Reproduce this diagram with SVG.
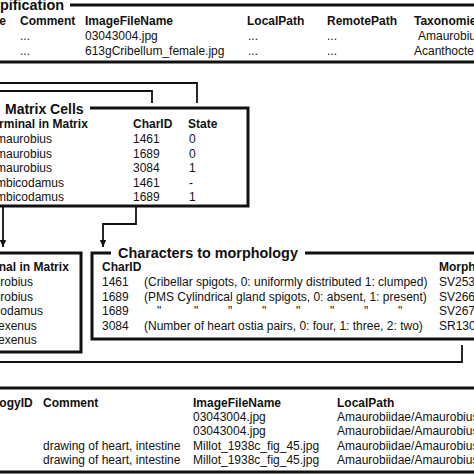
<svg xmlns="http://www.w3.org/2000/svg" width="474" height="474" viewBox="0 0 474 474">
<defs>
<style>
text{font-family:"Liberation Sans",Arial,sans-serif;font-size:12px;fill:#111}
.h{font-weight:bold}
.t{font-weight:bold;font-size:14.4px}
.box{fill:none;stroke:#111;stroke-width:3}
.con{fill:none;stroke:#111;stroke-width:1.8}
</style>
<marker id="arr" markerUnits="userSpaceOnUse" markerWidth="8" markerHeight="8" refX="7" refY="4" orient="auto">
<path d="M0,0.8 L7,4 L0,7.2 Z" fill="#111"/>
</marker>
</defs>
<rect width="474" height="474" fill="#fff"/>

<g id="node-specification">
<path class="box" d="M70,5 H474 M0,62 H474"/>
<text class="t" x="0" y="10">pification</text>
<text class="h" x="-20" y="25">Date</text>
<text class="h" x="20" y="25">Comment</text>
<text class="h" x="85" y="25">ImageFileName</text>
<text class="h" x="247" y="25">LocalPath</text>
<text class="h" x="327" y="25">RemotePath</text>
<text class="h" x="414" y="25">Taxonomie</text>
<text x="20" y="39.5">...</text>
<text x="85" y="39.5">03043004.jpg</text>
<text x="248" y="39.5">...</text>
<text x="327" y="39.5">...</text>
<text x="418" y="39.5">Amaurobius</text>
<text x="20" y="55">...</text>
<text x="85" y="55">613gCribellum_female.jpg</text>
<text x="248" y="55">...</text>
<text x="327" y="55">...</text>
<text x="414" y="55">Acanthocte</text>
</g>

<g id="node-matrix-cells">
<path class="box" d="M90,108 H248 V206 H0"/>
<text class="t" x="5" y="113.7" style="font-size:14px">Matrix Cells</text>
<text class="h" x="-14" y="128">Terminal in Matrix</text>
<text class="h" x="133" y="128">CharID</text>
<text class="h" x="188" y="128">State</text>
<text x="-12" y="143">Amaurobius</text><text x="133" y="143">1461</text><text x="189" y="143">0</text>
<text x="-12" y="157.5">Amaurobius</text><text x="133" y="157.5">1689</text><text x="189" y="157.5">0</text>
<text x="-12" y="172">Amaurobius</text><text x="133" y="172">3084</text><text x="189" y="172">1</text>
<text x="-12" y="186.5">Ambicodamus</text><text x="133" y="186.5">1461</text><text x="189" y="186.5">-</text>
<text x="-12" y="201">Ambicodamus</text><text x="133" y="201">1689</text><text x="189" y="201">1</text>
</g>

<g id="node-terminals">
<path class="box" d="M0,253 H81 V352 H0"/>
<text class="h" x="-33" y="271">Terminal in Matrix</text>
<text x="-31" y="286">Amaurobius</text>
<text x="-31" y="300.5">Amaurobius</text>
<text x="-33" y="315">Ambicodamus</text>
<text x="-2" y="329.5">exenus</text>
<text x="-2" y="344">exenus</text>
</g>

<g id="node-characters">
<path class="box" d="M111,253 H92 V339 H474 M305,253 H474"/>
<text class="t" x="118" y="258">Characters to morphology</text>
<text class="h" x="102" y="271">CharID</text>
<text class="h" x="439" y="271">Morph</text>
<text x="102" y="286">1461</text>
<text x="144" y="286">(Cribellar spigots, 0: uniformly distributed 1: clumped)</text>
<text x="439" y="286">SV253</text>
<text x="102" y="300.5">1689</text>
<text x="144" y="300.5">(PMS Cylindrical gland spigots, 0: absent, 1: present)</text>
<text x="439" y="300.5">SV266</text>
<text x="102" y="315">1689</text>
<text x="157 194 228 262 296 330 364 398" y="315">&quot;&quot;&quot;&quot;&quot;&quot;&quot;&quot;</text>
<text x="439" y="315">SV267</text>
<text x="102" y="329.5">3084</text>
<text x="144" y="329.5">(Number of heart ostia pairs, 0: four, 1: three, 2: two)</text>
<text x="439" y="329.5">SR130</text>
</g>

<g id="node-images">
<path class="box" d="M0,388 H474 M0,472 H474"/>
<text class="h" x="-48" y="407">MorphologyID</text>
<text class="h" x="43" y="407">Comment</text>
<text class="h" x="193" y="407">ImageFileName</text>
<text class="h" x="337" y="407">LocalPath</text>
<text x="193" y="421">03043004.jpg</text>
<text x="337" y="421">Amaurobiidae/Amaurobius</text>
<text x="193" y="435">03043004.jpg</text>
<text x="337" y="435">Amaurobiidae/Amaurobius</text>
<text x="43" y="450">drawing of heart, intestine</text>
<text x="193" y="450">Millot_1938c_fig_45.jpg</text>
<text x="337" y="450">Amaurobiidae/Amaurobius</text>
<text x="43" y="464">drawing of heart, intestine</text>
<text x="193" y="464">Millot_1938c_fig_45.jpg</text>
<text x="337" y="464">Amaurobiidae/Amaurobius</text>
</g>

<g id="connectors">
<polyline class="con" points="0,83 197,83 197,103"/>
<polyline class="con" points="0,91 152,91 152,103"/>
<polyline class="con" points="3,206 3,247" marker-end="url(#arr)"/>
<polyline class="con" points="136,206 136,224 103,224 103,247" marker-end="url(#arr)"/>
<polyline class="con" points="462,345 462,362 0,362"/>
</g>
</svg>
